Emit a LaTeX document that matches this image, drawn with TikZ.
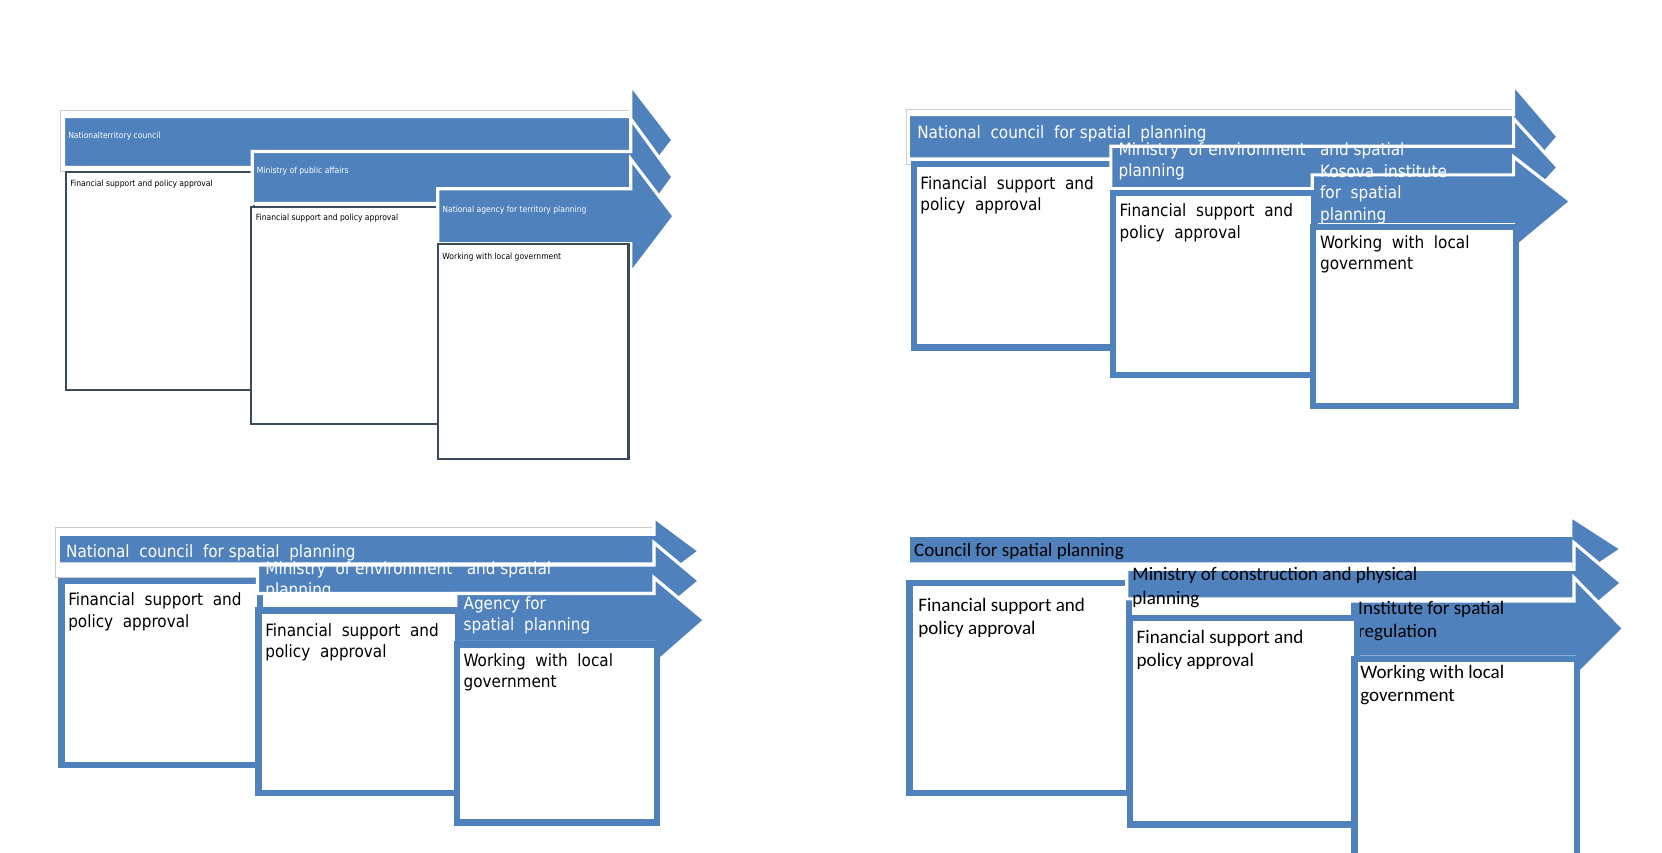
\documentclass[tikz,border=0pt]{standalone}
\usepackage{fontspec}
\setmainfont{Carlito}
\newfontfamily\tah{DejaVu Sans Condensed}
\definecolor{ablue}{HTML}{4F81BD}
\definecolor{dkb}{HTML}{3B4A5E}
\tikzset{
  arr/.style={fill=ablue,draw=white,line width=1.5pt,line join=miter},
  bxA/.style={fill=white,draw=dkb,line width=1pt},
  bxB/.style={fill=white,draw=ablue,line width=3pt},
  lab/.style={anchor=north west,inner sep=1pt,align=left}
}
% \arrw{x0}{y0}{x1}{y1}{headtop}{tipx}{tipy}{headbottom}
\newcommand\arrw[8]{\path[arr] (#1,#2) -- (#3,#2) -- (#3,#5) -- (#6,#7) -- (#3,#8) -- (#3,#4) -- (#1,#4) -- cycle;}
\begin{document}
\begin{tikzpicture}[x=0.5pt,y=-0.5pt]
\useasboundingbox (0,0) rectangle (1568,804);
\fill[white] (0,0) rectangle (1568,804);
% ---------- Top left ----------
\draw[gray!40] (57,104) rectangle (598,162);
\arrw{60}{110}{595}{158}{80}{635}{132}{184}
\node[lab,text=white,font=\tah\fontsize{4}{5}\selectfont] (tl1) at (62,122) {Nationalterritory council};
\draw[bxA] (62,162) rectangle (240,368);
\node[lab,font=\tah\fontsize{4}{5}\selectfont] (tl4) at (64,167) {Financial support and policy approval};
\arrw{238}{143}{595}{192}{112}{635}{167}{222}
\node[lab,text=white,font=\tah\fontsize{4}{5}\selectfont] (tl2) at (240,155) {Ministry of public affairs};
\draw[bxA] (237,195) rectangle (415,400);
\node[lab,font=\tah\fontsize{4}{5}\selectfont] (tl5) at (239,200) {Financial support and policy approval};
\arrw{413}{178}{595}{230}{150}{636}{204}{258}
\node[lab,text=white,font=\tah\fontsize{4}{5}\selectfont] (tl3) at (415,192) {National agency for territory planning};
\draw[bxA] (413,230) rectangle (593,433);
\node[lab,font=\tah\fontsize{4}{5}\selectfont] (tl6) at (415,236) {Working with local government};
% ---------- Top right ----------
\draw[gray!40] (855,103) rectangle (1428,155);
\arrw{857}{108}{1428}{150}{80}{1470}{129}{178}
\node[lab,text=white,font=\tah\fontsize{8}{9}\selectfont] (tr1) at (863,116) {National\ \ council\ \ for spatial\ \ planning};
\draw[bxB] (862,155) rectangle (1050,328);
\node[lab,font=\tah\fontsize{8}{10}\selectfont] (tr4) at (866,164) {Financial\ \ support\ \ and\\policy\ \ approval};
\arrw{1048}{138}{1428}{178}{112}{1470}{158}{204}
\node[lab,text=white,font=\tah\fontsize{8}{10}\selectfont] (tr2) at (1053,132) {Ministry\ \ of environment\ \ \ and spatial\\planning};
\arrw{1238}{165}{1428}{212}{148}{1482}{190}{235}
\node[lab,text=white,font=\tah\fontsize{8}{10}\selectfont] (tr3) at (1243,153) {Kosova\ \ institute\\for\ \ spatial\\planning};
\draw[bxB] (1050,182) rectangle (1240,354);
\node[lab,font=\tah\fontsize{8}{10}\selectfont] (tr5) at (1054,190) {Financial\ \ support\ \ and\\policy\ \ approval};
\draw[bxB] (1239,214) rectangle (1430,383);
\node[lab,font=\tah\fontsize{8}{10}\selectfont] (tr6) at (1243,220) {Working\ \ with\ \ local\\government};
% ---------- Bottom left ----------
\draw[gray!40] (52,498) rectangle (617,545);
\arrw{55}{504}{617}{532}{488}{660}{520}{552}
\node[lab,text=white,font=\tah\fontsize{8}{9}\selectfont] (bl1) at (60,511) {National\ \ council\ \ for spatial\ \ planning};
\draw[bxB] (58,548) rectangle (245,722);
\node[lab,font=\tah\fontsize{8}{10}\selectfont] (bl4) at (62,557) {Financial\ \ support\ \ and\\policy\ \ approval};
\arrw{243}{533}{617}{560}{512}{660}{548}{584}
\node[lab,text=white,font=\tah\fontsize{8}{10}\selectfont] (bl2) at (248,527) {Ministry\ \ of environment\ \ \ and spatial\\planning};
\arrw{430}{560}{617}{606}{545}{665}{585}{627}
\node[lab,text=white,font=\tah\fontsize{8}{10}\selectfont] (bl3) at (435,560) {Agency for\\spatial\ \ planning};
\draw[bxB] (244,576) rectangle (432,748);
\node[lab,font=\tah\fontsize{8}{10}\selectfont] (bl5) at (248,586) {Financial\ \ support\ \ and\\policy\ \ approval};
\draw[bxB] (431,608) rectangle (620,776);
\node[lab,font=\tah\fontsize{8}{10}\selectfont] (bl6) at (435,614) {Working\ \ with\ \ local\\government};
% ---------- Bottom right ----------
\arrw{857}{505}{1482}{532}{487}{1530}{518}{550}
\node[lab,font=\fontsize{9}{11}\selectfont] (br1) at (860,510) {Council for spatial planning};
\draw[bxB] (858,550) rectangle (1065,748);
\node[lab,font=\fontsize{9}{11}\selectfont] (br4) at (864,562) {Financial support and\\policy approval};
\arrw{1063}{537}{1485}{565}{512}{1530}{550}{588}
\node[lab,font=\fontsize{9}{11}\selectfont] (br2) at (1066,533) {Ministry of construction and physical\\planning};
\arrw{1273}{567}{1485}{620}{545}{1532}{593}{640}
\node[lab,font=\fontsize{9}{11}\selectfont] (br3) at (1279,565) {Institute for spatial\\regulation};
\draw[bxB] (1066,583) rectangle (1280,778);
\node[lab,font=\fontsize{9}{11}\selectfont] (br5) at (1070,592) {Financial support and\\policy approval};
\draw[bxB] (1278,622) rectangle (1488,860);
\node[lab,font=\fontsize{9}{11}\selectfont] (br6) at (1281,625) {Working with local\\government};
\end{tikzpicture}
\end{document}
